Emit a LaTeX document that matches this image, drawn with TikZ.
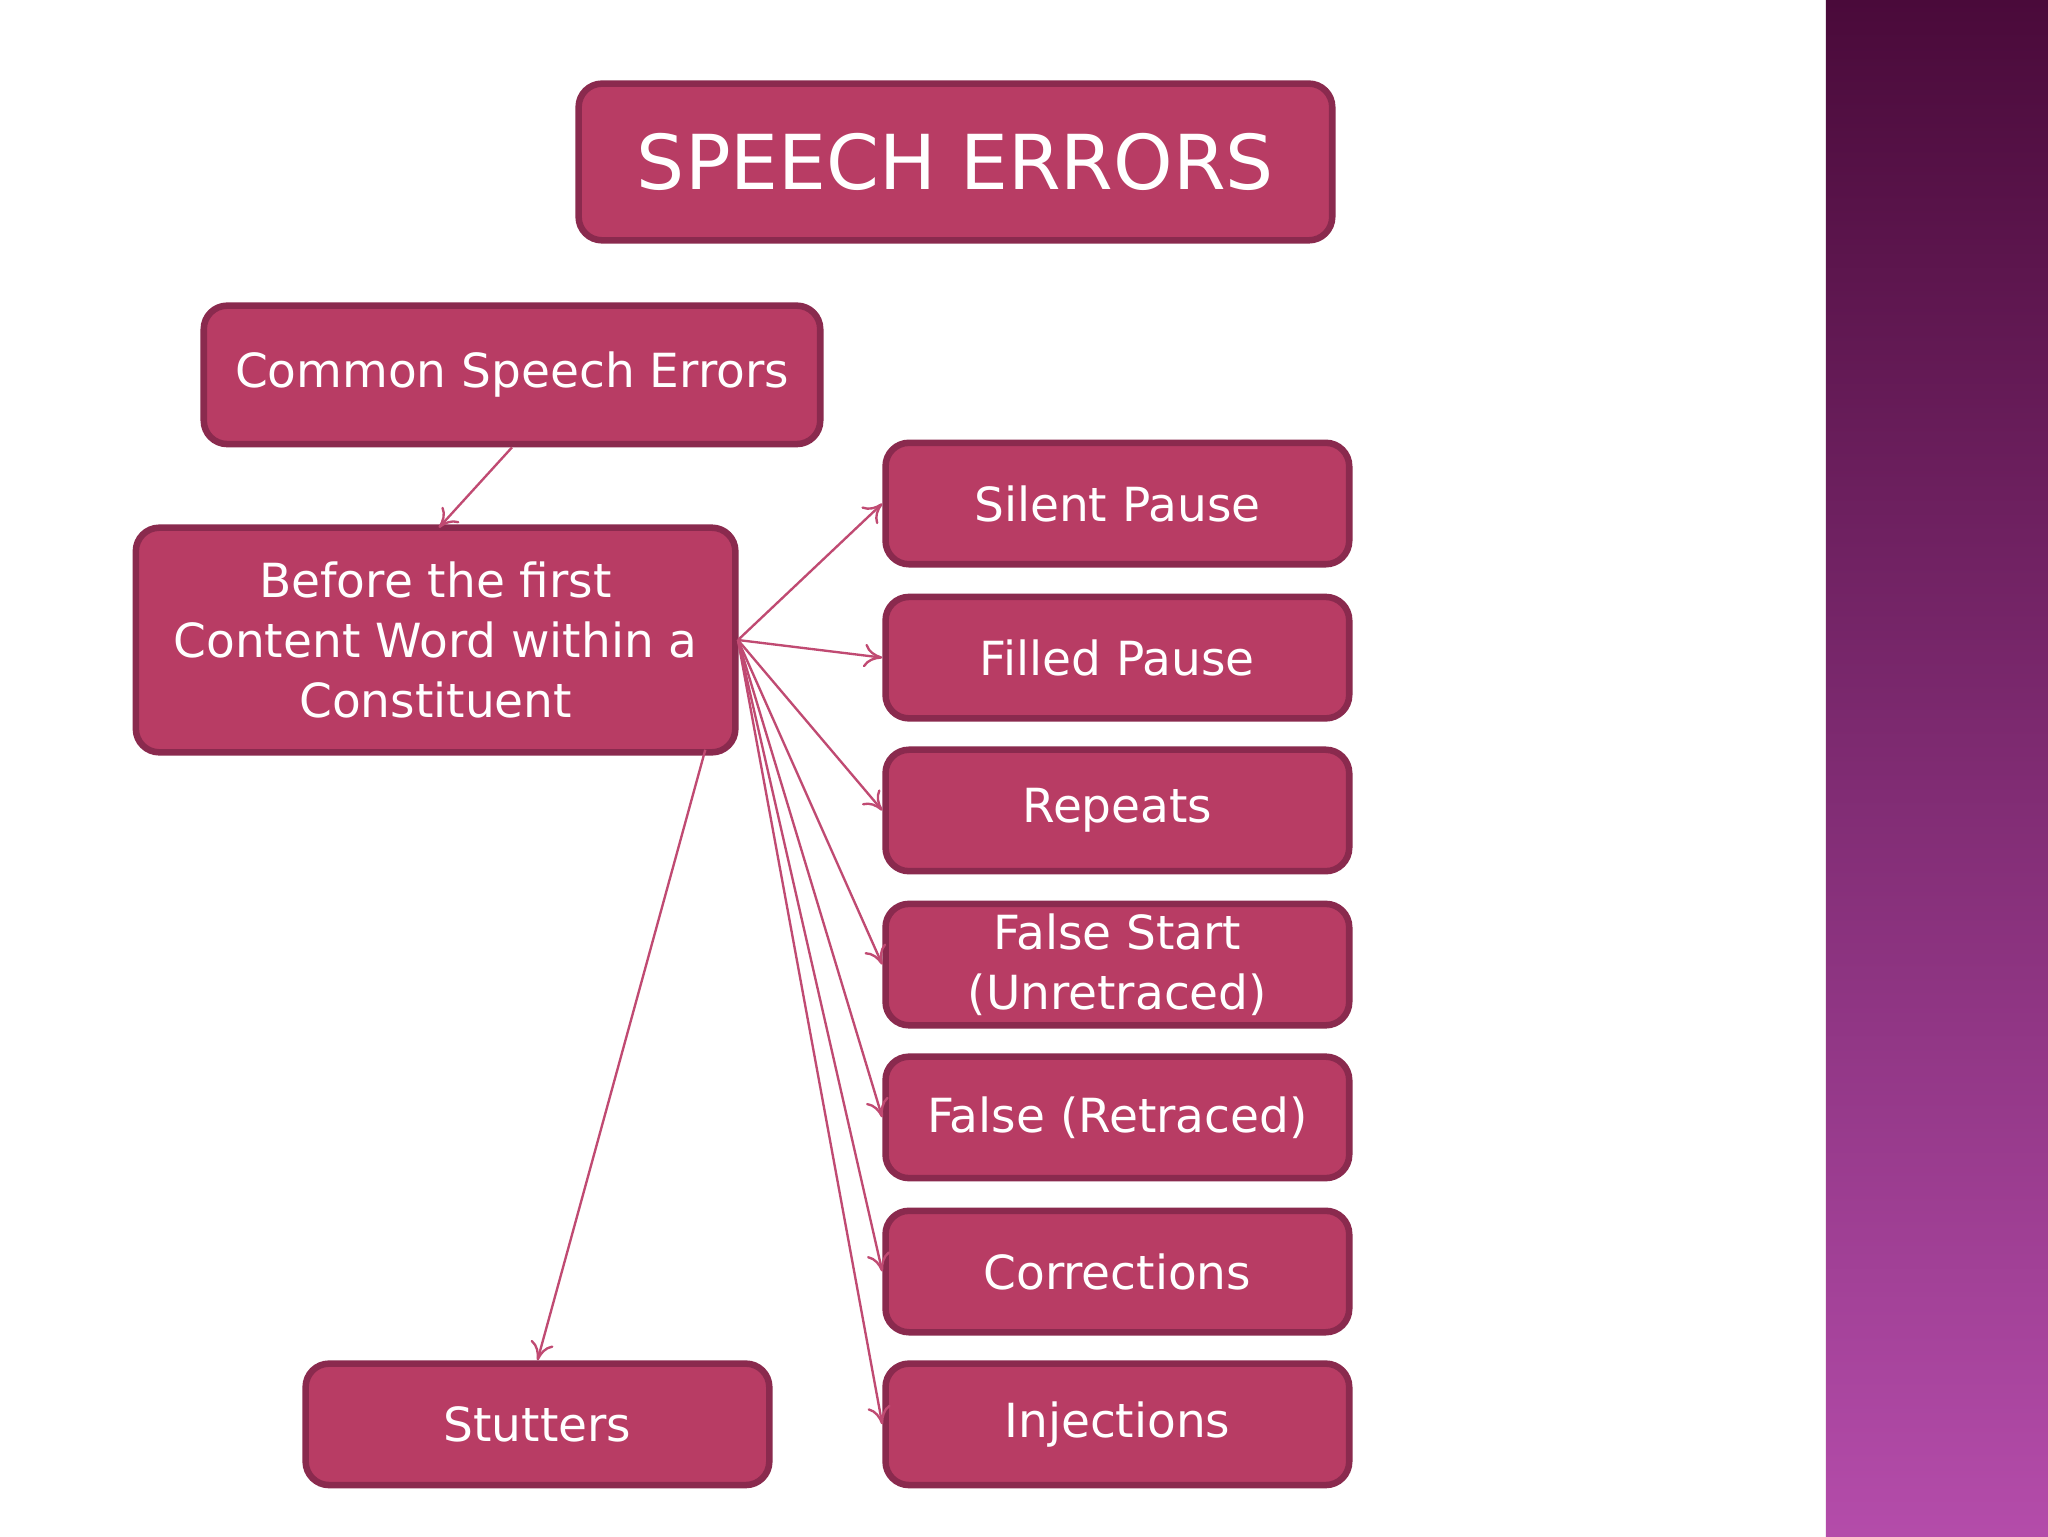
\documentclass[tikz,border=0pt]{standalone}
\usepackage{fontspec}
\setmainfont{DejaVu Sans}
\usetikzlibrary{arrows.meta}
\definecolor{boxfill}{HTML}{B83C64}
\definecolor{boxline}{HTML}{8A2A4E}
\definecolor{arr}{HTML}{C04A72}
\definecolor{bartop}{HTML}{4A0A3A}
\definecolor{barbot}{HTML}{B44CAA}
\begin{document}
\begin{tikzpicture}[x=1pt,y=-1pt,
  box/.style={draw=boxline,line width=5pt,fill=boxfill,rounded corners=18pt,text=white,font=\fontsize{36}{46}\selectfont,align=center,inner sep=0pt},
  conn/.style={draw=arr,line width=1.8pt,-{To[length=14pt,width=18pt]}}]
\useasboundingbox (0,0) rectangle (1568,1176);
\fill[white] (0,0) rectangle (1568,1176);
\shade[top color=bartop,bottom color=barbot] (1398,0) rectangle (1568,1176);
\node[box,font=\fontsize{58}{64}\selectfont,minimum width=577pt,minimum height=120pt] (title) at (731.5,124) {SPEECH ERRORS};
\node[box,minimum width=472pt,minimum height=106pt] (common) at (392,287) {Common Speech Errors};
\node[box,minimum width=459pt,minimum height=172pt] (before) at (333.5,490) {Before the first\\Content Word within a\\Constituent};
\foreach \n/\y/\t in {silent/385.5/Silent Pause, filled/503.5/Filled Pause, repeats/620.5/Repeats, fstart/738.5/{False Start\\(Unretraced)}, fretr/855.5/False (Retraced), corr/973.5/Corrections, inj/1090.5/Injections}
  \node[box,minimum width=355pt,minimum height=93pt] (\n) at (855.5,\y) {\t};
\node[box,minimum width=355pt,minimum height=93pt] (stut) at (411.5,1090.5) {Stutters};
\coordinate (src) at (565,490);
\draw[conn] (common.south) -- (336,404);
\foreach \n in {silent,filled,repeats,fstart,fretr,corr,inj}
  \draw[conn] (src) -- (\n.west);
\draw[conn] (540,574) -- (stut.north);
\end{tikzpicture}
\end{document}
